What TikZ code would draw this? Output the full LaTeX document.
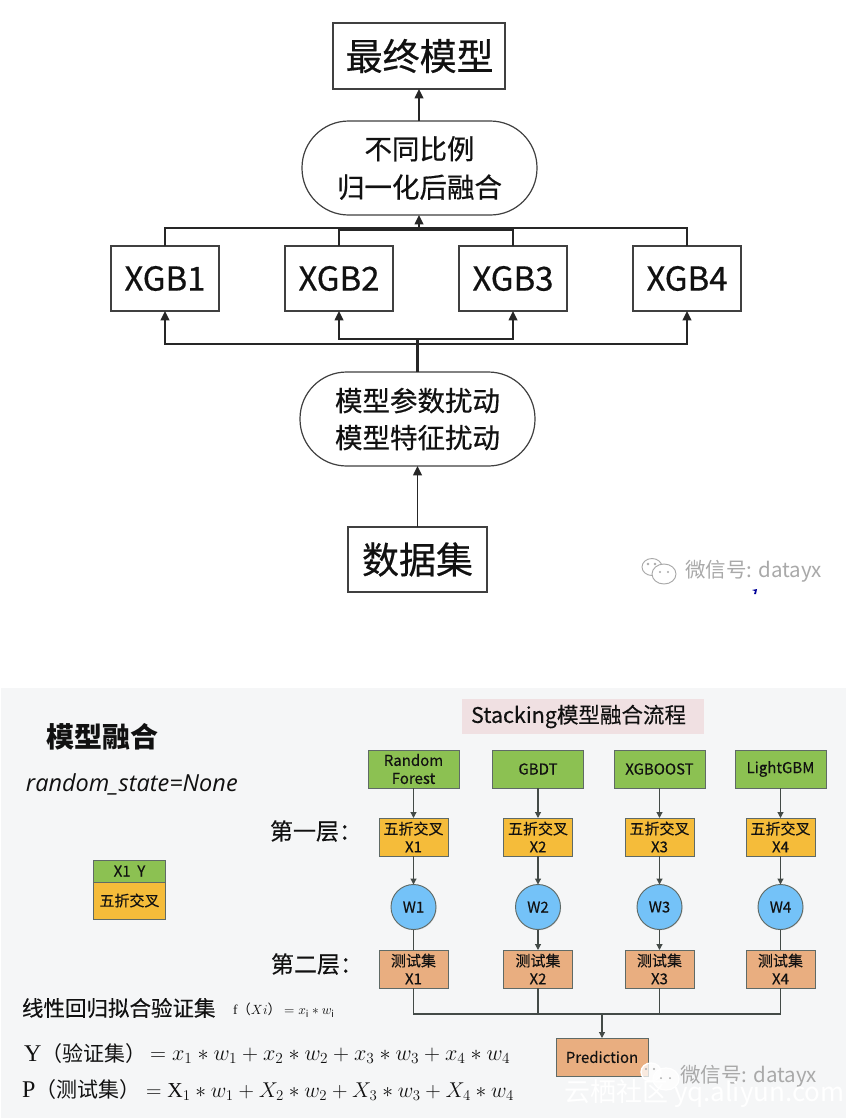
\documentclass[tikz,border=0pt]{standalone}
\usepackage{fontspec}
\setmainfont{Noto Sans CJK SC}
\newfontfamily\itfont{Open Sans}
\newfontfamily\topfont[FakeBold=0.5]{Noto Sans CJK SC}
\newfontfamily\midfont[FakeBold=0.25]{Noto Sans CJK SC}
\newfontfamily\serfont{Liberation Serif}
\usetikzlibrary{arrows.meta,shadows}
\newcommand{\fsz}[1]{\fontsize{\dimexpr#1pt*3/4\relax}{\dimexpr#1pt*9/10\relax}\selectfont}
\newcommand{\fcol}{\midfont\fontsize{11.25pt}{13.5pt}\selectfont}
\definecolor{panel}{HTML}{F5F6F7}
\definecolor{titlebg}{HTML}{F0E0E2}
\definecolor{grn}{HTML}{8CC152}
\definecolor{org}{HTML}{F5BC3A}
\definecolor{sal}{HTML}{E9AE80}
\definecolor{blu}{HTML}{74C2F8}
\definecolor{edge}{HTML}{5F6A66}
\definecolor{ink}{HTML}{111111}
\definecolor{wm}{HTML}{A9A9A9}
\tikzset{
  x=0.75pt,y=-0.75pt,
  sz/.style 2 args={minimum width=#1*0.75pt,minimum height=#2*0.75pt,inner sep=0pt,outer sep=0pt,align=center},
  plainbox/.style={draw=black!75,line width=0.9pt,fill=white,text=ink},
  pill/.style={plainbox,rounded corners=35pt},
  conn/.style={draw=black!85,line width=1.1pt},
  connh/.style={conn,line width=1.4pt},
  arr/.style={-{Triangle[length=7pt,width=6.5pt]}},
  cbox/.style={draw=edge,line width=0.7pt,text=ink,drop shadow={shadow xshift=0.6pt,shadow yshift=-0.8pt,opacity=0.25}},
  gbox/.style={cbox,fill=grn,sz={91}{38}},
  obox/.style={cbox,fill=org,sz={69}{38}},
  sbox/.style={cbox,fill=sal,sz={69}{38}},
  wcirc/.style={circle,draw=edge,line width=0.7pt,fill=blu,minimum size=33.75pt,inner sep=0pt,outer sep=0pt,text=ink,drop shadow={shadow xshift=0.5pt,shadow yshift=-0.6pt,opacity=0.2}},
  bconn/.style={draw=edge!70!black,line width=0.8pt},
  barr/.style={-{Triangle[length=4.5pt,width=4.5pt]}},
  lbl/.style={inner sep=0pt,outer sep=0pt,text=ink},
  wmark/.style={inner sep=0pt,text=wm},
}
\begin{document}
\begin{tikzpicture}
\useasboundingbox (0,0) rectangle (857,1118);
\fill[white] (0,0) rectangle (857,1118);
% ---------- upper diagram
\node[plainbox,sz={172}{66},font=\topfont\fsz{37}] (final) at (419,56) {\hspace{1pt}最终模型};
\node[pill,sz={235}{94},font=\topfont\fsz{27.5}] (blend) at (419.5,168) {不同比例\\[4pt]归一化后融合};
\foreach \nn/\cx/\tt in {x1/165/XGB1,x2/339/XGB2,x3/513/XGB3,x4/687/XGB4}
  \node[plainbox,sz={108}{65},font=\topfont\fsz{33}] (\nn) at (\cx,278.5) {\tt};
\node[pill,sz={235}{94},font=\topfont\fsz{27.5}] (perturb) at (417.5,419) {模型参数扰动\\[3pt]模型特征扰动};
\node[plainbox,sz={139}{65},font=\topfont\fsz{37}] (data) at (417.5,559.5) {数据集};
\coordinate (jt) at (419,228);
\coordinate (jt2) at (419,230);
\coordinate (jb) at (417.5,344);
\coordinate (jb2) at (417.5,339);
\draw[conn,arr] (blend.north -| final) -- (final.south);
\draw[connh] (x1.north) |- (jt) -| (x4.north);
\draw[connh] (x2.north) |- (jt2) -| (x3.north);
\draw[conn,arr] (jt) -- (jt |- blend.south);
\draw[connh,arr] (jb) -| (x1.south);
\draw[connh,arr] (jb) -| (x4.south);
\draw[conn,arr] (jb2) -| (x2.south);
\draw[conn,arr] (jb2) -| (x3.south);
\draw[conn,line width=1.8pt] (perturb.north) -- (jb2);
\draw[conn,arr] (data.north) -- (perturb.south);
% upper watermark
\draw[wm,line width=0.7pt,fill=white] (652,567) ellipse (10 and 8.5);
\draw[wm,line width=0.7pt,fill=white] (664,574) ellipse (12 and 10);
\fill[wm] (648,564) circle (1.3) (655,564) circle (1.3) (660,572) circle (1.1) (668,572) circle (1.1);
\node[wmark,anchor=west,font=\fsz{20.5}] (wm1) at (685,571) {微信号: datayx};
\fill[blue!60!black] (752,590) -- (757,589) -- (756,594) -- (754,594) -- (755,591) -- cycle;
% ---------- lower panel
\fill[panel] (1,688) rectangle (846,1118);
\node[fill=titlebg,sz={242}{35}] (title) at (583,716.5) {};
\node[lbl,font=\midfont\fsz{21.5}] (titlet) at (578.5,716.5) {Stacking模型融合流程};
\node[lbl,anchor=west,font=\fsz{28}\bfseries] (mf) at (46,737) {模型融合};
\node[lbl,anchor=west,font={\itfont\itshape\fsz{23.5}}] (rs) at (26,784) {random\_state=None};
\node[lbl,anchor=west,font=\midfont\fsz{23}] (l1) at (270,831) {第一层：};
\node[lbl,anchor=west,font=\midfont\fsz{23}] (l2) at (271,964) {第二层：};
% legend
\node[cbox,fill=org,sz={72}{37},font=\midfont\fsz{15}] (lo) at (129.5,900.5) {五折交叉};
\node[cbox,fill=grn,sz={72}{22},font=\midfont\fsz{15}] (lg) at (129.5,871) {X1\ \ Y};
% columns
\foreach \cn/\cx/\ct in {1/413.5/{Random\\Forest},2/538/GBDT,3/659.5/XGBOOST,4/780.5/LightGBM}{
  \node[gbox,font=\fcol] (g\cn) at (\cx,769) {\ct};
  \node[obox,font=\fcol] (o\cn) at (\cx,837) {五折交叉\\X\cn};
  \node[wcirc,font=\fcol] (w\cn) at (\cx,907) {W\cn};
  \node[sbox,font=\fcol] (s\cn) at (\cx,969) {测试集\\X\cn};
  \draw[bconn,barr] (g\cn) -- (o\cn);
  \draw[bconn,barr] (o\cn) -- (w\cn);
}
\draw[bconn] (w1) -- (s1);
\draw[bconn,barr] (w2) -- (s2);
\draw[bconn,barr] (w3) -- (s3);
\draw[bconn] (w4) -- (s4);
\node[cbox,fill=sal,sz={92}{38},font=\fcol] (pred) at (602,1057) {Prediction};
\coordinate (jp) at (602,1014);
\draw[bconn] (s1.south) |- (jp) -| (s4.south);
\draw[bconn] (s2.south) -- (s2.south |- jp);
\draw[bconn] (s3.south) -- (s3.south |- jp);
\draw[bconn,barr] (jp) -- (pred.north);
% formulas
\node[lbl,anchor=west,font=\midfont\fsz{21.5}] (fit) at (22,1008) {线性回归拟合验证集};
\node[lbl,anchor=west,font=\fsz{13.5}] (ff) at (233,1010) {{\serfont f}（$Xi$） $=x_{\mathrm{i}}*w_{\mathrm{i}}$};
\node[lbl,anchor=west,font=\fsz{21}] (yl) at (24,1054) {{\serfont\fsz{24}Y}（验证集）};
\node[lbl,anchor=west,font=\fsz{23}] (ye) at (150,1056) {\scalebox{0.9626}{$=x_1*w_1+x_2*w_2+x_3*w_3+x_4*w_4$}};
\node[lbl,anchor=west,font=\fsz{21}] (pl) at (22,1090) {{\serfont\fsz{24}P}（测试集）};
\node[lbl,anchor=west,font=\fsz{23}] (pe) at (146,1092) {\scalebox{0.93}{$=\mbox{\serfont X}_1*w_1+X_2*w_2+X_3*w_3+X_4*w_4$}};
% lower watermark
\draw[white,line width=1pt,fill=white,fill opacity=0.75] (651,1072) ellipse (10 and 9);
\draw[white,line width=1pt,fill=white,fill opacity=0.75] (666,1079) ellipse (13 and 11);
\fill[wm] (646,1069) circle (1.2) (654,1069) circle (1.2) (661,1078) circle (1) (670,1078) circle (1);
\node[wmark,anchor=west,font=\fsz{20.5}] (wm2) at (680,1076) {微信号: datayx};
\node[inner sep=0pt,anchor=west,text=white,font=\fsz{26}] (wm3) at (564,1094) {云栖社区 yq.aliyun.com};
\end{tikzpicture}
\end{document}
